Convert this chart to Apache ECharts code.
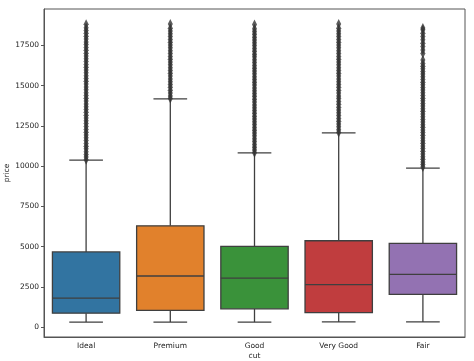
<!DOCTYPE html>
<html><head><meta charset="utf-8">
<script src="https://cdn.jsdelivr.net/npm/echarts@6/dist/echarts.min.js"></script>
<style>html,body{margin:0;padding:0;background:#fff}#c{width:474px;height:361px}</style>
</head><body><div id="c"></div>
<script>
var categories = ['Ideal', 'Premium', 'Good', 'Very Good', 'Fair'];
// [lower whisker, Q1, median, Q3, upper whisker]
var boxStats = [
  [326, 878, 1810, 4678, 10380],
  [326, 1046, 3185, 6296, 14180],
  [327, 1145, 3050, 5028, 10820],
  [336, 912, 2648, 5373, 12070],
  [337, 2050, 3282, 5206, 9880]
];
var colors = ['#3274a1', '#e1812c', '#3a923a', '#c03d3e', '#9372b2'];
var yTicks = [0, 2500, 5000, 7500, 10000, 12500, 15000, 17500];
var outIdeal = [10390,10560,10720,10900,11080,11230,11410,11590,11760,11930,12110,12280,12460,12640,12810,12990,13160,13340,13510,13690,13860,14040,14210,14390,14560,14740,14910,15090,15260,15440,15610,15790,15960,16140,16310,16490,16660,16840,17010,17190,17360,17540,17710,17890,18060,18240,18410,18590,18806];
var outPremium = [14190,14360,14540,14710,14890,15060,15240,15410,15590,15760,15940,16110,16290,16460,16640,16810,16990,17160,17340,17510,17690,17860,18040,18210,18390,18560,18823];
var outGood = [10830,11000,11180,11350,11530,11700,11880,12050,12230,12400,12580,12750,12930,13100,13280,13450,13630,13800,13980,14150,14330,14500,14680,14850,15030,15200,15380,15550,15730,15900,16080,16250,16430,16600,16780,16950,17130,17300,17480,17650,17830,18000,18180,18350,18530,18788];
var outVeryGood = [12090,12260,12440,12610,12790,12960,13140,13310,13490,13660,13840,14010,14190,14360,14540,14710,14890,15060,15240,15410,15590,15760,15940,16110,16290,16460,16640,16810,16990,17160,17340,17510,17690,17860,18040,18210,18390,18560,18818];
var outFair = [9940,10100,10260,10430,10590,10760,10920,11090,11250,11420,11580,11750,11910,12080,12240,12410,12570,12740,12900,13070,13230,13400,13560,13730,13890,14060,14220,14390,14550,14720,14880,15050,15210,15380,15540,15710,15870,16040,16200,16370,16580,16990,17200,17420,17630,17840,18040,18250,18460,18574];

var outliers = [outIdeal, outPremium, outGood, outVeryGood, outFair];
var scatterData = [];
outliers.forEach(function (arr, i) { arr.forEach(function (v) { scatterData.push([i, v]); }); });
var boxData = boxStats.map(function (s, i) { return [i].concat(s); });

var LINE = '#3f3f3f';
var chart = echarts.init(document.getElementById('c'), null, {renderer: 'canvas'});
chart.setOption({
  animation: false,
  textStyle: {fontFamily: 'DejaVu Sans'},
  grid: {left: 44, right: 9, top: 9, bottom: 24, containLabel: false, outerBoundsMode: 'none',
    show: true, borderColor: '#555', borderWidth: 1},
  xAxis: {
    type: 'category', data: categories, boundaryGap: true,
    name: 'cut', nameLocation: 'middle', nameGap: 15, nameMoveOverlap: false,
    nameTextStyle: {fontSize: 7.5, color: '#222'},
    axisLine: {onZero: false, lineStyle: {color: '#555'}},
    axisTick: {alignWithLabel: true, length: 3, lineStyle: {color: '#555'}},
    axisLabel: {fontSize: 7.5, color: '#222', margin: 5}
  },
  yAxis: {
    type: 'value', min: -600, max: 19750,
    name: 'price', nameLocation: 'middle', nameGap: 33, nameRotate: 90, nameMoveOverlap: false,
    nameTextStyle: {fontSize: 7.5, color: '#222'},
    splitLine: {show: false},
    axisLine: {show: true, onZero: false, lineStyle: {color: '#555'}},
    axisTick: {show: true, length: 3, customValues: yTicks, lineStyle: {color: '#555'}},
    axisLabel: {fontSize: 7.5, color: '#222', margin: 5, customValues: yTicks,
      formatter: function (v) { return String(v); }}
  },
  series: [
    {
      type: 'custom',
      data: boxData,
      z: 2,
      renderItem: function (params, api) {
        var i = api.value(0);
        var bw = api.size([1, 0])[0] * 0.8;
        var x = api.coord([i, 0])[0];
        var pMin = api.coord([i, api.value(1)])[1];
        var pQ1 = api.coord([i, api.value(2)])[1];
        var pMed = api.coord([i, api.value(3)])[1];
        var pQ3 = api.coord([i, api.value(4)])[1];
        var pMax = api.coord([i, api.value(5)])[1];
        var ls = {stroke: LINE, lineWidth: 1.3};
        return {
          type: 'group',
          children: [
            {type: 'line', shape: {x1: x, y1: pQ1, x2: x, y2: pMin}, style: ls},
            {type: 'line', shape: {x1: x, y1: pQ3, x2: x, y2: pMax}, style: ls},
            {type: 'line', shape: {x1: x - bw / 4, y1: pMin, x2: x + bw / 4, y2: pMin}, style: ls},
            {type: 'line', shape: {x1: x - bw / 4, y1: pMax, x2: x + bw / 4, y2: pMax}, style: ls},
            {type: 'rect', shape: {x: x - bw / 2, y: pQ3, width: bw, height: pQ1 - pQ3},
              style: {fill: colors[i], stroke: LINE, lineWidth: 1.3}},
            {type: 'line', shape: {x1: x - bw / 2, y1: pMed, x2: x + bw / 2, y2: pMed}, style: ls}
          ]
        };
      }
    },
    {
      type: 'scatter',
      data: scatterData,
      symbol: 'diamond',
      symbolSize: [5, 10],
      z: 3,
      itemStyle: {color: '#333333'}
    }
  ]
});
</script></body></html>
